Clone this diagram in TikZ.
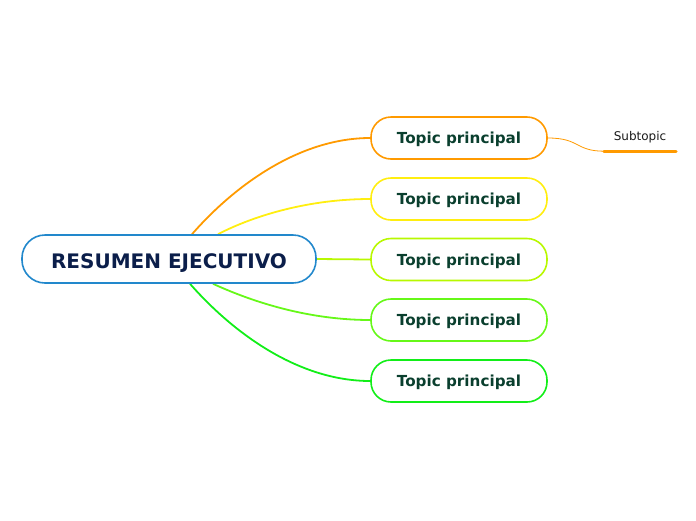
\documentclass[tikz,border=0pt]{standalone}
\usepackage{fontspec}
\setmainfont{DejaVu Sans}
\usepackage{xcolor}
\usetikzlibrary{backgrounds}
\definecolor{mainblue}{HTML}{2288CC}
\definecolor{mainnavy}{HTML}{0B1E4A}
\definecolor{topicgreen}{HTML}{0A3F2E}
\definecolor{ca}{HTML}{FF9A00}
\definecolor{cb}{HTML}{FFEE10}
\definecolor{cc}{HTML}{B8F800}
\definecolor{cd}{HTML}{66F818}
\definecolor{ce}{HTML}{12EE18}

\begin{document}
\begin{tikzpicture}[x=1pt,y=-1pt,
 main/.style={draw=mainblue,line width=1.6pt,rounded corners=23pt,fill=white,
  minimum width=294pt,minimum height=48pt,text=mainnavy,
  text height=18.6pt,text depth=0pt,
  font=\bfseries\fontsize{20}{22}\selectfont},
 topic/.style={line width=1.6pt,rounded corners=20pt,fill=white,
  minimum width=176pt,minimum height=42pt,text=topicgreen,
  text height=14.5pt,text depth=3.5pt,
  font=\bfseries\fontsize{15.2}{17}\selectfont},
 branch/.style={line width=1.8pt}]

\useasboundingbox (0,0) rectangle (696,520);

% nodos
\node[main] (c) at (169,259) {RESUMEN EJECUTIVO};
\foreach \i/\col/\y in {1/ca/138,2/cb/199,3/cc/259.5,4/cd/320,5/ce/381}
 \node[topic,draw=\col] (t\i) at (459,\y) {Topic principal};

% ramas
\begin{scope}[on background layer]
 \draw[branch,ca] ([xshift=23pt]c.north) .. controls (235,185) and (300,138) .. (t1.west);
 \draw[branch,cb] ([xshift=49pt]c.north) .. controls (255,215) and (310,199) .. (t2.west);
 \draw[branch,cc] (c.east) -- (t3.west);
 \draw[branch,cd] ([xshift=44pt]c.south) .. controls (255,303) and (310,320) .. (t4.west);
 \draw[branch,ce] ([xshift=21pt]c.south) .. controls (235,335) and (300,381) .. (t5.west);
\end{scope}

% subtopic
\node[minimum width=72pt,minimum height=28pt,inner sep=0pt,text=black!90,
 font=\fontsize{12}{14}\selectfont] (s1) at (640,137) {Subtopic};
\draw[ca,line width=0.8pt] (t1.east) .. controls (580,138) and (575,151) .. (s1.south west);
\draw[ca,line width=3pt,line cap=round] (s1.south west) -- (s1.south east);

\end{tikzpicture}
\end{document}
